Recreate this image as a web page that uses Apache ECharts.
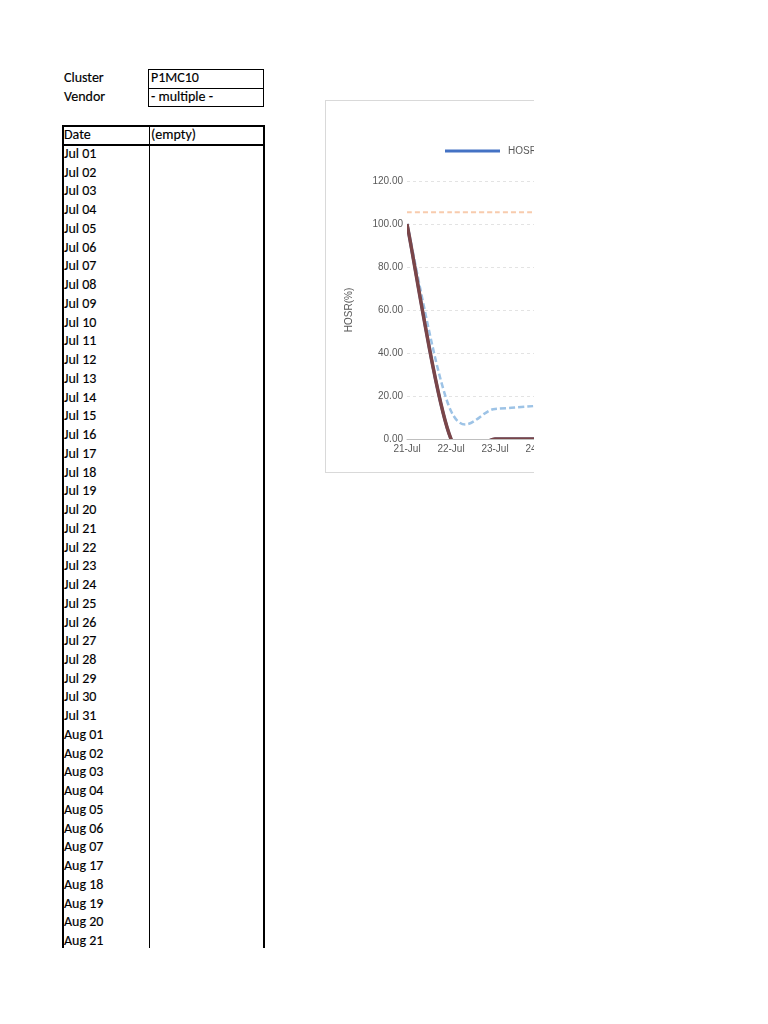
<!DOCTYPE html>
<html><head><meta charset="utf-8">
<script src="https://cdn.jsdelivr.net/npm/echarts@6/dist/echarts.min.js"></script>
<style>
body{margin:0;background:#fff;width:768px;height:1024px;position:relative;overflow:hidden;font-family:Carlito,Lato,'Open Sans',sans-serif;}
.t{position:absolute;font-size:14px;color:#000;line-height:18px;height:18px;white-space:nowrap;-webkit-text-stroke:0.15px #000;}
.b{position:absolute;background:#000;}
#wrap{position:absolute;left:325px;top:100px;width:208px;height:371px;overflow:hidden;border:1px solid #d9d9d9;border-right:none;background:#fff;}
#chart{position:absolute;left:0;top:0;width:440px;height:371px;}
</style></head><body>
<div id="sheet"></div>
<div id="wrap"><div id="chart"></div></div>
<script>
// ---- sheet data ----
const filterLabels = ['Cluster', 'Vendor'];
const filterValues = ['P1MC10', '- multiple -'];
const headers = ['Date', '(empty)'];
const dates = ['Jul 01','Jul 02','Jul 03','Jul 04','Jul 05','Jul 06','Jul 07','Jul 08','Jul 09','Jul 10',
  'Jul 11','Jul 12','Jul 13','Jul 14','Jul 15','Jul 16','Jul 17','Jul 18','Jul 19','Jul 20',
  'Jul 21','Jul 22','Jul 23','Jul 24','Jul 25','Jul 26','Jul 27','Jul 28','Jul 29','Jul 30','Jul 31',
  'Aug 01','Aug 02','Aug 03','Aug 04','Aug 05','Aug 06','Aug 07',
  'Aug 17','Aug 18','Aug 19','Aug 20','Aug 21'];

// ---- chart data ----
const categories = ['21-Jul', '22-Jul', '23-Jul', '24-Jul'];
const hosr = [100, 0, 0, 0];
const hosrTrend = [100, 0, 0, 0];
const hosrAvg = [100, 13, 14, 15.5];
const hosrTarget = [105.5, 105.5, 105.5, 105.5];
const yMin = 0, yMax = 120, yStep = 20;

// ---- draw sheet ----
const sheet = document.getElementById('sheet');
function txt(x, cy, s) {
  const d = document.createElement('div');
  d.className = 't'; d.style.left = x + 'px'; d.style.top = (cy - 9) + 'px';
  d.textContent = s; sheet.appendChild(d);
}
function bar(x, y, w, h) {
  const d = document.createElement('div');
  d.className = 'b';
  d.style.left = x + 'px'; d.style.top = y + 'px'; d.style.width = w + 'px'; d.style.height = h + 'px';
  sheet.appendChild(d);
}
const rowH = 18.74;
filterLabels.forEach((l, i) => { txt(64, 78 + i * 19, l); txt(151, 78 + i * 19, filterValues[i]); });
bar(148, 69, 116, 1); bar(148, 88, 116, 1); bar(148, 106, 116, 1);
bar(148, 69, 1, 38); bar(263, 69, 1, 38);
txt(64, 135, headers[0]); txt(151, 135, headers[1]);
dates.forEach((d, i) => txt(64, 154 + i * rowH, d));
bar(62, 125, 203, 2); bar(62, 144, 203, 2);
bar(62, 125, 2, 823); bar(263, 125, 2, 823); bar(148.5, 125, 1.2, 823);

// ---- chart ----
const chart = echarts.init(document.getElementById('chart'), null, {renderer: 'canvas'});
const grey = '#595959';

// Excel-like smoothed line (Catmull-Rom Bezier), positioned through the axes via api.coord
function smoothSeries(name, values, color, width, dash, smooth) {
  return {
    name: name, type: 'custom', clip: true, z: 3,
    itemStyle: {color: color},
    data: values.map((v, i) => [i, v]),
    renderItem: function (params, api) {
      if (params.dataIndex !== 0) return null;
      const p = values.map((v, i) => api.coord([i, v]));
      let d = 'M' + p[0][0] + ' ' + p[0][1];
      for (let i = 0; i < p.length - 1; i++) {
        const a = p[Math.max(i - 1, 0)], b = p[i], c = p[i + 1], e = p[Math.min(i + 2, p.length - 1)];
        const k = smooth ? 1 / 6 : 0;
        const c1x = b[0] + (c[0] - a[0]) * k, c1y = b[1] + (c[1] - a[1]) * k;
        const c2x = c[0] - (e[0] - b[0]) * k, c2y = c[1] - (e[1] - b[1]) * k;
        d += ' C' + c1x + ' ' + c1y + ' ' + c2x + ' ' + c2y + ' ' + c[0] + ' ' + c[1];
      }
      return {
        type: 'path', shape: {pathData: d},
        style: {fill: null, stroke: color, lineWidth: width, lineDash: dash || null, lineCap: 'butt'}
      };
    }
  };
}

chart.setOption({
  animation: false,
  backgroundColor: '#fff',
  legend: {
    left: 114, top: 40, icon: 'rect', itemWidth: 55, itemHeight: 3,
    data: ['HOSR'],
    textStyle: {color: grey, fontSize: 10, fontFamily: 'Liberation Sans', padding: [0, 0, 0, 3]}
  },
  grid: {left: 81, top: 80, width: 132, height: 258, containLabel: false},
  xAxis: {
    type: 'category', data: categories, boundaryGap: false,
    axisLine: {lineStyle: {color: '#bfbfbf', width: 1}},
    axisTick: {show: false},
    axisLabel: {color: grey, fontSize: 10, fontFamily: 'Liberation Sans', margin: 5},
    splitLine: {show: false}
  },
  yAxis: {
    type: 'value', min: yMin, max: yMax, interval: yStep,
    name: 'HOSR(%)', nameLocation: 'middle', nameGap: 53,
    nameTextStyle: {color: grey, fontSize: 10, fontFamily: 'Liberation Sans'},
    axisLine: {show: false}, axisTick: {show: false},
    axisLabel: {color: grey, fontSize: 10, fontFamily: 'Liberation Sans', margin: 4,
      formatter: v => v.toFixed(2)},
    splitLine: {lineStyle: {color: '#e3e3e3', width: 1, type: [3, 3]}}
  },
  series: [
    smoothSeries('HOSR Target', hosrTarget, '#f8cbad', 2, [5, 3], false),
    smoothSeries('HOSR', hosr, '#4472c4', 3, null, true),
    smoothSeries('HOSR Avg', hosrAvg, '#9dc3e6', 2.5, [6, 3], true),
    smoothSeries('HOSR Trend', hosrTrend, '#7a4548', 3.5, null, true)
  ]
});
</script>
</body></html>
